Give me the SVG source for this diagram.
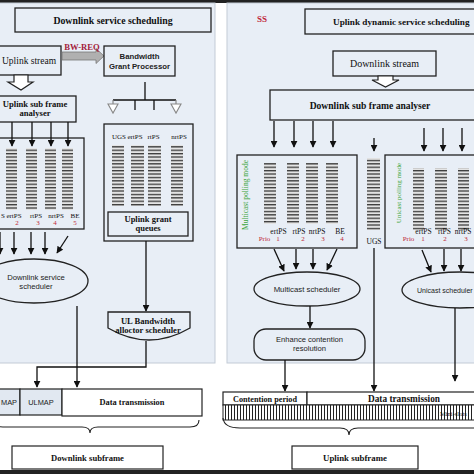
<svg xmlns="http://www.w3.org/2000/svg" width="474" height="474" viewBox="0 0 474 474">
<style>
.serif{font-family:"Liberation Serif","Times New Roman",serif;fill:#111}
.sans{font-family:"Liberation Sans",Arial,sans-serif;fill:#222}
.b{font-weight:bold}
.box{fill:none;stroke:#222;stroke-width:1.3}
.wbox{fill:#fff;stroke:#222;stroke-width:1.2}
.panel{fill:#e8eef6;stroke:#c3cbd6;stroke-width:1}
.q{fill:url(#hs)}
.red{fill:#c0283a}
.green{fill:#3aa53a}
.ln{fill:none;stroke:#111;stroke-width:1.3}
.arr{fill:none;stroke:#111;stroke-width:1.3;marker-end:url(#ah)}
</style>
<defs>
<marker id="ah" viewBox="0 0 10 10" refX="9" refY="5" markerWidth="7" markerHeight="7" markerUnits="userSpaceOnUse" orient="auto"><path d="M0,0 L10,5 L0,10 z" fill="#111"/></marker>
<pattern id="hs" patternUnits="userSpaceOnUse" width="20" height="3.4"><rect width="20" height="3.4" fill="#e4e4e4"/><rect width="20" height="1.3" fill="#3a3a3a"/></pattern>
<pattern id="vs" patternUnits="userSpaceOnUse" width="3" height="20"><rect width="3" height="20" fill="#fff"/><rect width="1" height="20" fill="#222"/></pattern>
</defs>
<rect width="474" height="474" fill="#fff"/>
<rect x="0" y="0" width="474" height="3" fill="#222"/>
<rect x="0" y="470" width="474" height="4" fill="#222"/>
<rect class="panel" x="-2" y="3" width="217" height="360"/>
<rect class="panel" x="227" y="3" width="250" height="360"/>

<!-- LEFT PANEL -->
<g id="dl-title"><rect class="box" x="15" y="8" width="196" height="24"/><text class="serif b" x="113" y="24" font-size="9.8" text-anchor="middle">Downlink service scheduling</text></g>
<g id="uplink-stream"><rect class="box" x="-20" y="46" width="81" height="29"/><text class="serif" x="2" y="64" font-size="9.5">Uplink stream</text></g>
<g id="bw-req"><path d="M62,52 L96,52 L96,48.5 L104,56 L96,63.5 L96,60 L62,60 Z" fill="#b0b0b0" stroke="#777" stroke-width="0.8"/><text class="serif b" x="82" y="50" font-size="8.6" text-anchor="middle" style="fill:#a3203a">BW-REQ</text></g>
<g id="bgp"><rect class="box" x="104" y="46" width="71" height="30"/><text class="sans b" x="139.5" y="59" font-size="7.8" text-anchor="middle">Bandwidth</text><text class="sans b" x="139.5" y="69" font-size="7.8" text-anchor="middle">Grant Processor</text></g>
<g id="dl-hollow-arrow"><path d="M14,75 L28,75 L28,82 L33,82 L21,90 L8,82 L14,82 Z" fill="#fff" stroke="#222" stroke-width="1.2"/></g>
<g id="ul-analyser"><rect class="box" x="-22" y="96" width="98" height="26"/><text class="serif b" x="35" y="107" font-size="8.6" text-anchor="middle">Uplink sub frame</text><text class="serif b" x="35" y="116" font-size="8.6" text-anchor="middle">analyser</text></g>
<g id="dl-queues"><rect class="box" x="-2" y="138" width="86" height="91"/>
<rect class="q" x="6" y="148" width="11" height="62"/><rect class="q" x="26" y="148" width="11" height="62"/><rect class="q" x="45" y="148" width="11" height="62"/><rect class="q" x="62" y="148" width="11" height="62"/>
<g class="serif" font-size="7"><text x="1" y="218">S</text><text x="14" y="218" text-anchor="middle">ertPS</text><text x="36" y="218" text-anchor="middle">rtPS</text><text x="56" y="218" text-anchor="middle">nrtPS</text><text x="75" y="218" text-anchor="middle">BE</text></g>
<g class="serif red" font-size="7" text-anchor="middle"><text x="17" y="225">2</text><text x="38" y="225">3</text><text x="55" y="225">4</text><text x="75" y="225">5</text></g></g>
<g id="ug-queues"><rect class="box" x="104" y="124" width="89" height="117"/>
<g class="serif" font-size="7" text-anchor="middle"><text x="119" y="139">UGS</text><text x="135" y="139">ertPS</text><text x="153.5" y="139">rtPS</text><text x="179" y="139">nrtPS</text></g>
<rect class="q" x="112" y="145" width="12" height="61"/><rect class="q" x="131" y="145" width="13" height="61"/><rect class="q" x="148" y="145" width="13" height="61"/><rect class="q" x="171" y="145" width="12" height="61"/>
<rect class="box" x="108" y="212" width="80" height="24"/><text class="serif b" x="148" y="222" font-size="8.5" text-anchor="middle">Uplink grant</text><text class="serif b" x="148" y="231" font-size="8.5" text-anchor="middle">queues</text></g>
<g id="dl-sched"><ellipse cx="34" cy="281" rx="54" ry="22" fill="none" stroke="#222" stroke-width="1.3"/><text class="sans" x="36" y="280" font-size="7.7" text-anchor="middle">Downlink service</text><text class="sans" x="36" y="289" font-size="7.7" text-anchor="middle">scheduler</text></g>
<g id="ul-bw-alloc"><path d="M108,312 L190,312 L190,328 Q149,352 108,328 Z" fill="none" stroke="#222" stroke-width="1.3"/><text class="serif b" x="148" y="324" font-size="8.6" text-anchor="middle">UL Bandwidth</text><text class="serif b" x="148" y="333" font-size="8.6" text-anchor="middle">alloctor scheduler</text></g>

<!-- RIGHT PANEL -->
<g id="ss-label"><text class="serif b red" x="257" y="22" font-size="9">SS</text></g>
<g id="ul-title"><rect class="box" x="305" y="9" width="175" height="25"/><text class="serif b" x="333" y="25" font-size="9.2">Uplink dynamic service scheduling</text></g>
<g id="dl-stream"><rect class="box" x="333" y="51" width="103" height="25"/><text class="serif" x="384.5" y="67" font-size="10" text-anchor="middle">Downlink stream</text></g>
<g id="ul-hollow-arrow"><path d="M378,76 L393,76 L393,80 L399,80 L385.5,87 L372,80 L378,80 Z" fill="#fff" stroke="#222" stroke-width="1.2"/></g>
<g id="dl-analyser"><rect class="box" x="270" y="90" width="210" height="30"/><text class="serif b" x="370" y="109" font-size="9.6" text-anchor="middle">Downlink sub frame analyser</text></g>
<g id="multicast-box"><rect class="box" x="237" y="155" width="120" height="93"/>
<text class="serif green" font-size="7.5" text-anchor="middle" transform="translate(247.5,195) rotate(-90)">Multicast polling mode</text>
<rect class="q" x="264" y="163" width="12" height="61"/><rect class="q" x="287" y="163" width="12" height="61"/><rect class="q" x="306" y="163" width="12" height="61"/><rect class="q" x="326" y="163" width="12" height="61"/>
<g class="serif" font-size="7.5" text-anchor="middle"><text x="278.5" y="234">ertPS</text><text x="299" y="234">rtPS</text><text x="317" y="234">nrtPS</text><text x="340" y="234">BE</text></g>
<g class="serif red" font-size="7" text-anchor="middle"><text x="264.5" y="241">Prio</text><text x="278" y="241">1</text><text x="303" y="241">2</text><text x="323" y="241">3</text><text x="342" y="241">4</text></g></g>
<g id="ugs-queue"><rect class="q" x="367" y="158" width="13" height="72"/><text class="serif" x="374" y="244" font-size="7.5" text-anchor="middle">UGS</text></g>
<g id="unicast-box"><rect class="box" x="385" y="155" width="95" height="93"/>
<text class="serif green" font-size="7" text-anchor="middle" transform="translate(400.5,193) rotate(-90)">Unicast polling mode</text>
<rect class="q" x="413" y="168" width="11" height="62"/><rect class="q" x="435" y="168" width="12" height="62"/><rect class="q" x="458" y="168" width="11" height="62"/>
<g class="serif" font-size="7.5" text-anchor="middle"><text x="423.5" y="234">ertPS</text><text x="444.5" y="234">rtPS</text><text x="463" y="234">nrtPS</text></g>
<g class="serif red" font-size="7" text-anchor="middle"><text x="408.5" y="241">Prio</text><text x="423" y="241">1</text><text x="445" y="241">2</text><text x="466" y="241">3</text></g></g>
<g id="multicast-sched"><ellipse cx="307" cy="289" rx="53" ry="17" fill="none" stroke="#222" stroke-width="1.3"/><text class="sans" x="307" y="292" font-size="7.8" text-anchor="middle">Multicast scheduler</text></g>
<g id="enhance"><rect x="254" y="329" width="111" height="31" rx="12" fill="none" stroke="#222" stroke-width="1.3"/><text class="sans" x="309.5" y="342" font-size="7.6" text-anchor="middle">Enhance contention</text><text class="sans" x="309.5" y="351" font-size="7.6" text-anchor="middle">resolution</text></g>
<g id="unicast-sched"><ellipse cx="460" cy="290" rx="58" ry="18" fill="none" stroke="#222" stroke-width="1.3"/><text class="sans" x="417" y="293" font-size="7">Unicast scheduler</text></g>

<!-- BOTTOM FRAMES -->
<g id="dl-frame">
<rect x="-22" y="389" width="42" height="26" fill="#e1e8f1" stroke="#222" stroke-width="1.2"/><text class="sans" x="1" y="405" font-size="7.4">MAP</text>
<rect x="20" y="389" width="42" height="26" fill="#e1e8f1" stroke="#222" stroke-width="1.2"/><text class="sans" x="41" y="405" font-size="7.4" text-anchor="middle">ULMAP</text>
<rect class="wbox" x="62" y="389" width="140" height="27"/><text class="serif b" x="132" y="405" font-size="8.4" text-anchor="middle">Data transmission</text>
<path d="M-10,420 Q-10,427 6,427 L82,427 Q90,427 90,433 Q90,427 98,427 L190,427 Q199,427 199,420" fill="none" stroke="#222" stroke-width="1.1"/>
<rect class="wbox" x="12" y="446" width="151" height="23"/><text class="serif b" x="87.5" y="461" font-size="8.6" text-anchor="middle">Downlink subframe</text></g>
<g id="ul-frame">
<rect class="wbox" x="223" y="392" width="84" height="13"/><text class="serif b" x="265" y="402" font-size="8.2" text-anchor="middle">Contention period</text>
<rect class="wbox" x="307" y="392" width="173" height="13"/><text class="serif b" x="404" y="402" font-size="9.3" text-anchor="middle">Data transmission</text>
<rect x="223" y="405" width="257" height="15" fill="url(#vs)" stroke="#222" stroke-width="1"/>
<text class="serif" x="440" y="416" font-size="6.5">Mini-slots</text>
<path d="M223,418 Q224,428 240,428 L340,428 Q349,428 349,435 Q349,428 358,428 L480,428" fill="none" stroke="#222" stroke-width="1.1"/>
<rect class="wbox" x="292" y="446" width="126" height="23"/><text class="serif b" x="355" y="461" font-size="8.8" text-anchor="middle">Uplink subframe</text></g>

<g id="connectors">
<path class="ln" d="M145,82 L145,100 M113,100 L176,100 M135,100 L135,110 M154,100 L154,110"/>
<path d="M113,100 L113,104 M176,100 L176,104" stroke="#888" stroke-width="1.2" fill="none"/>
<path d="M108,104 L118,104 L113,113 Z M171,104 L181,104 L176,113 Z" fill="#fff" stroke="#888" stroke-width="1.1"/>
<path class="arr" d="M12,122 L12,146"/><path class="arr" d="M32,122 L32,146"/><path class="arr" d="M51,122 L51,146"/><path class="arr" d="M68,122 L68,146"/>
<path class="arr" d="M0,232 L0,254"/><path class="arr" d="M14,232 L14,254"/><path class="arr" d="M31,232 L31,254"/><path class="arr" d="M45,232 L45,254"/><path class="arr" d="M68,236 L57,253"/>
<path class="arr" d="M146,241 L146,311"/>
<path class="arr" d="M146,341 L146,367 L37,367 L37,387"/>
<path class="arr" d="M77,306 L77,387"/>
<path class="arr" d="M274,121 L274,147"/><path class="arr" d="M294,121 L294,147"/><path class="arr" d="M313,121 L313,147"/><path class="arr" d="M333,121 L333,147"/>
<path class="arr" d="M374,138 L374,151"/>
<path class="arr" d="M424,128 L424,151"/><path class="arr" d="M443,128 L443,151"/><path class="arr" d="M462,128 L462,151"/>
<path class="arr" d="M274,249 L284,271"/><path class="arr" d="M296,249 L296,269"/><path class="arr" d="M313,249 L313,269"/><path class="arr" d="M337,249 L327,270"/>
<path class="arr" d="M310,306 L310,328"/>
<path class="arr" d="M285,360 L285,391"/>
<path class="arr" d="M374,248 L374,391"/>
<path class="arr" d="M422,250 L431,272"/><path class="arr" d="M444,249 L444,271"/><path class="arr" d="M461,249 L461,271"/>
<path class="arr" d="M455,308 L455,381"/>
</g>
</svg>
